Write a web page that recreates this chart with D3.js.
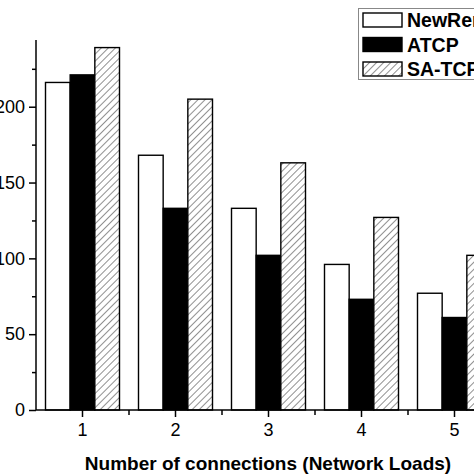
<!DOCTYPE html>
<html>
<head>
<meta charset="utf-8">
<script src="https://cdn.jsdelivr.net/npm/d3@7"></script>
<style>
html,body{margin:0;padding:0;background:#fff;overflow:hidden;}
svg{display:block;}
text{font-family:"Liberation Sans",Arial,sans-serif;}
</style>
</head>
<body>
<script>
const categories = ["1","2","3","4","5"];
const seriesNames = ["NewReno","ATCP","SA-TCP"];
const newreno = [216, 168, 133, 96, 77];
const atcp    = [221, 133, 102, 73, 61];
const satcp   = [239, 205, 163, 127, 102];
const yMajorTicks = [0, 50, 100, 150, 200];
const yMinorTicks = [25, 75, 125, 175, 225];
const xLabel = "Number of connections (Network Loads)";

const seriesValues = [newreno, atcp, satcp];
const W = 474, H = 474;
const svg = d3.select("body").append("svg").attr("width", W).attr("height", H);

const defs = svg.append("defs");
const pat = defs.append("pattern").attr("id","hatch").attr("patternUnits","userSpaceOnUse")
  .attr("width",5).attr("height",5).attr("patternTransform","rotate(45)");
pat.append("rect").attr("width",5).attr("height",5).attr("fill","#fff");
pat.append("line").attr("x1",0).attr("y1",0).attr("x2",0).attr("y2",5)
  .attr("stroke","#333").attr("stroke-width",1.1);

const x0 = 36, yBase = 410, yTop = 40, step = 93;
const x = d3.scaleBand().domain(categories).range([x0, x0 + step*categories.length]).padding(0);
const xs = d3.scaleBand().domain(seriesNames).range([9.5, step-9.5]).padding(0);
const y = d3.scaleLinear().domain([0, 244]).range([yBase, yTop]);

const fills = {"NewReno":"#fff","ATCP":"#000","SA-TCP":"url(#hatch)"};

// bars
seriesNames.forEach((s, si) => {
  svg.append("g").selectAll("rect").data(categories).join("rect")
    .attr("x", c => x(c) + xs(s))
    .attr("y", (c,i) => y(seriesValues[si][i]))
    .attr("width", xs.bandwidth())
    .attr("height", (c,i) => y(0) - y(seriesValues[si][i]))
    .attr("fill", fills[s])
    .attr("stroke", "#000").attr("stroke-width", 1.4);
});

// y axis
const yAxis = d3.axisLeft(y).tickValues(yMajorTicks).tickSize(7).tickPadding(4).tickFormat(d3.format("d"));
const gy = svg.append("g").attr("transform", `translate(${x0},0)`).call(yAxis);
gy.select(".domain").remove();
gy.selectAll(".tick line").attr("stroke","#000").attr("stroke-width",1.5);
gy.selectAll("text").attr("font-size",18).attr("fill","#000");
gy.append("line").attr("x1",0).attr("x2",0).attr("y1",y(0)).attr("y2",yTop).attr("stroke","#000").attr("stroke-width",1.5);
const gyMinor = d3.axisLeft(y).tickValues(yMinorTicks).tickSize(4).tickFormat("");
const gym = svg.append("g").attr("transform", `translate(${x0},0)`).call(gyMinor);
gym.select(".domain").remove();
gym.selectAll(".tick line").attr("stroke","#000").attr("stroke-width",1.5);

// x axis
const xAxis = d3.axisBottom(x).tickSize(7).tickPadding(6);
const gx = svg.append("g").attr("transform", `translate(0,${yBase})`).call(xAxis);
gx.select(".domain").remove();
gx.selectAll(".tick line").attr("stroke","#000").attr("stroke-width",1.5);
gx.selectAll("text").attr("font-size",18).attr("fill","#000");
gx.append("line").attr("x1",x0).attr("x2",x0 + step*categories.length).attr("y1",0).attr("y2",0).attr("stroke","#000").attr("stroke-width",1.5);
// minor x ticks at band boundaries
gx.append("g").selectAll("line").data(categories.slice(1)).join("line")
  .attr("x1", c => x(c)).attr("x2", c => x(c)).attr("y1",0).attr("y2",5)
  .attr("stroke","#000").attr("stroke-width",1.5);

// x label
svg.append("text").attr("x", 268).attr("y", 470).attr("text-anchor","middle")
  .attr("font-size",19).attr("font-weight","bold").attr("fill","#000").text(xLabel);

// legend
const lg = svg.append("g");
lg.append("rect").attr("x",358.5).attr("y",8.5).attr("width",140).attr("height",71)
  .attr("fill","#fff").attr("stroke","#888").attr("stroke-width",1);
seriesNames.forEach((s, i) => {
  const yy = 13 + i*24.5;
  lg.append("rect").attr("x",363).attr("y",yy).attr("width",39).attr("height",14)
    .attr("fill",fills[s]).attr("stroke","#000").attr("stroke-width",1.4);
  lg.append("text").attr("x",407).attr("y",yy+14).attr("font-size",19.5).attr("font-weight","bold")
    .attr("fill","#000").text(s);
});
</script>
</body>
</html>
